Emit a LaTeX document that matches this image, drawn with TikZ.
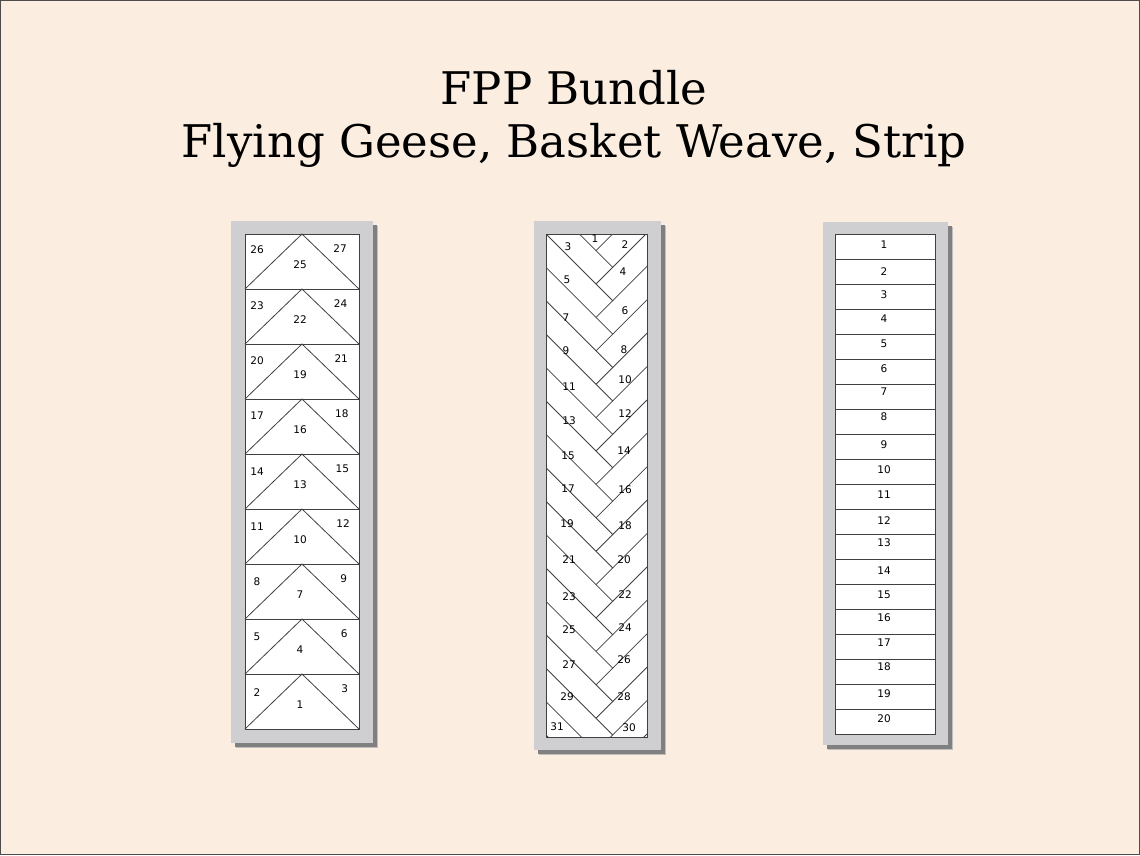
\documentclass[tikz,border=0pt]{standalone}
\usepackage{fontspec}
\newfontfamily\titlefont{DejaVu Serif}
\newfontfamily\numfont{DejaVu Sans}
\definecolor{bg}{RGB}{251,238,224}
\definecolor{frame}{RGB}{207,207,209}
\tikzset{
  panel/.style={fill=frame},
  inner/.style={fill=white,draw=black!75,line width=0.8pt},
  seam/.style={draw=black!75,line width=0.8pt},
  num/.style={font=\numfont\fontsize{10.5}{10.5}\selectfont,inner sep=0pt},
  ttl/.style={font=\titlefont\fontsize{45}{45}\selectfont,inner sep=0pt}
}
\newcommand{\shadowpanel}[4]{%
  \fill[black!25] (#1+5,#2+5) rectangle (#3+5,#4+5);
  \fill[black!50] (#1+3.5,#2+3.5) rectangle (#3+3.5,#4+3.5);
  \fill[panel] (#1,#2) rectangle (#3,#4);}
\begin{document}
\begin{tikzpicture}[x=1pt,y=-1pt]
\fill[bg] (0,0) rectangle (1140,855);
\draw[black!70,line width=1pt] (0.5,0.5) rectangle (1139.5,854.5);
\useasboundingbox (0,0) rectangle (1140,855);
\node[ttl] (t1) at (574,88) {FPP Bundle};
\node[ttl] (t2) at (574,145) {Flying Geese, Basket Weave, Strip};
% ---------- Flying geese
\shadowpanel{231}{221}{373}{743}
\draw[inner] (245,234) rectangle (359,729);
\foreach \i in {0,...,8}{
  \pgfmathsetmacro{\t}{234+55*\i}
  \pgfmathsetmacro{\b}{\t+55}
  \draw[seam] (245,\b) -- (302,\t) -- (359,\b);
  \draw[seam] (245,\b) -- (359,\b);
  \pgfmathtruncatemacro{\L}{26-3*\i}
  \pgfmathtruncatemacro{\R}{27-3*\i}
  \pgfmathtruncatemacro{\C}{25-3*\i}
  \node[num] (gl\i) at (257,\t+16+0.3*\i) {\L};
  \node[num] (gr\i) at (340+0.6*\i,\t+15) {\R};
  \node[num] (gc\i) at (300,\t+31) {\C};
}
% ---------- Basket weave
\shadowpanel{534}{221}{661}{750}
\draw[inner] (546,234) rectangle (647,737);
\begin{scope}
\clip (546,234) rectangle (647,737);
\foreach \k in {-2,...,15}{
  \pgfmathsetmacro{\a}{234+33.4*\k}
  \draw[seam] (546,\a) -- (546+67,\a+67);
  \draw[seam] (596,\a+50) -- (647,\a-1);
}
\end{scope}
\draw[inner,fill=none] (546,234) rectangle (647,737);
\node[num] (b1) at (595,239) {1};
\foreach \n/\x/\y in {3/568/247,5/567/280,7/566/318,9/566/351,11/569/387,13/569/421,15/568/456,17/568/489,19/567/524,21/569/560,23/569/597,25/569/630,27/569/665,29/567/697,31/557/727,
 2/625/245,4/623/272,6/625/311,8/624/350,10/625/380,12/625/414,14/624/451,16/625/490,18/625/526,20/624/560,22/625/595,24/625/628,26/624/660,28/624/697,30/629/728}
  \node[num] (b\n) at (\x,\y) {\n};
% ---------- Strip
\shadowpanel{823}{222}{948}{745}
\draw[inner] (835,234) rectangle (935,734);
\foreach \i in {1,...,19}
  \draw[seam] (835,234+25*\i) -- (935,234+25*\i);
\foreach \n/\y in {1/245,2/272,3/295,4/319,5/344,6/369,7/392,8/417,9/445,10/470,11/495,12/521,13/543,14/571,15/595,16/618,17/643,18/667,19/694,20/719}
  \node[num] (s\n) at (884,\y) {\n};
\end{tikzpicture}
\end{document}
